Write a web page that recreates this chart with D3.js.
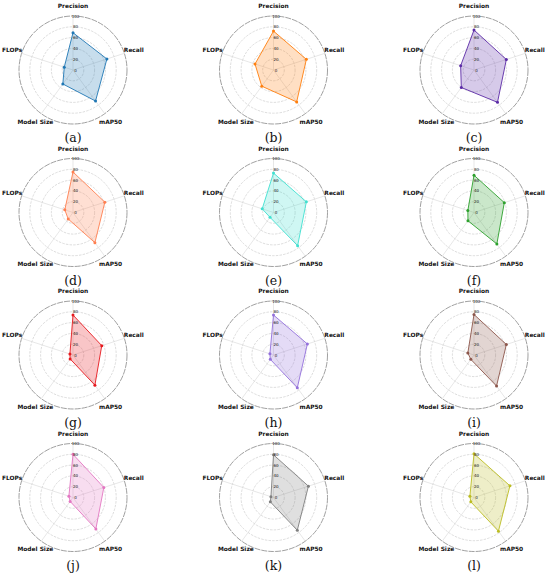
<!DOCTYPE html>
<html>
<head>
<meta charset="utf-8">
<script src="https://cdn.jsdelivr.net/npm/d3@7"></script>
<style>
  body { margin: 0; background: #fff; }
  svg { display: block; }
</style>
</head>
<body>
<div id="chart"></div>
<script>
// radar grid of 12 models, one panel each
var metrics = ['Precision', 'Recall', 'mAP50', 'Model Size', 'FLOPs']
var ringTicks = [0, 20, 40, 60, 80, 100]
var panelNames = ['(a)', '(b)', '(c)', '(d)', '(e)', '(f)', '(g)', '(h)', '(i)', '(j)', '(k)', '(l)']
var panelColors = ['#1f77b4', '#ff7f0e', '#5b2aa6', '#ff7f50', '#40e0d0', '#2ca02c',
                   '#e6191e', '#9370db', '#8c564b', '#e377c2', '#7f7f7f', '#bcbd22']

var precision = [69, 72, 74, 75, 73, 69, 74, 74, 75, 80, 79, 81]
var recall    = [66, 64, 63, 62, 64, 59, 56, 66, 63, 60, 68, 70]
var map50     = [71, 73, 74, 69, 76, 72, 69, 75, 71, 72, 75, 77]
var modelSize = [32, 37, 40, 15, 11, 19, 9, 10, 10, 9, 10, 10]
var flops     = [17, 36, 26, 16, 22, 12, 6, 7, 12, 8, 5, 8]

var width = 550
var height = 575
var colX = [73, 273.5, 474]
var rowY = [70, 212.5, 355, 497.5]
var R = 54

var svg = d3.select('#chart').append('svg')
    .attr('width', width)
    .attr('height', height)

var r = d3.scaleLinear().domain([0, 100]).range([0, R])
var angle = d3.scaleLinear().domain([0, metrics.length]).range([0, 2 * Math.PI])

var drawPanel = function(i) {
    var cx = colX[i % 3]
    var cy = rowY[Math.floor(i / 3)]
    var color = panelColors[i]
    var values = [precision[i], recall[i], map50[i], modelSize[i], flops[i]]

    var g = svg.append('g').attr('transform', 'translate(' + cx + ',' + cy + ')')

    // rings
    g.selectAll('.ring')
        .data(ringTicks.slice(1, -1))
        .enter().append('circle')
        .attr('r', function(d) { return r(d) })
        .attr('fill', 'none')
        .attr('stroke', '#c6c6c6')
        .attr('stroke-width', 0.6)
        .attr('stroke-dasharray', '2.5,1.2')

    g.append('circle')
        .attr('r', r(100))
        .attr('fill', 'none')
        .attr('stroke', '#808080')
        .attr('stroke-width', 0.75)
        .attr('stroke-dasharray', '6,1')

    // spokes
    g.selectAll('.spoke')
        .data(metrics)
        .enter().append('line')
        .attr('x1', 0).attr('y1', 0)
        .attr('x2', function(d, k) { return r(100) * Math.sin(angle(k)) })
        .attr('y2', function(d, k) { return -r(100) * Math.cos(angle(k)) })
        .attr('stroke', '#d6d6d6')
        .attr('stroke-width', 0.6)

    var radial = d3.lineRadial()
        .angle(function(d, k) { return angle(k) })
        .radius(function(d) { return r(d) })
        .curve(d3.curveLinearClosed)

    g.append('path')
        .attr('d', radial(values))
        .attr('fill', color)
        .attr('fill-opacity', 0.25)
        .attr('stroke', color)
        .attr('stroke-width', 0.9)

    g.selectAll('.dot')
        .data(values)
        .enter().append('circle')
        .attr('cx', function(d, k) { return r(d) * Math.sin(angle(k)) })
        .attr('cy', function(d, k) { return -r(d) * Math.cos(angle(k)) })
        .attr('r', 1.5)
        .attr('fill', color)

    g.selectAll('.tick')
        .data(ringTicks)
        .enter().append('text')
        .attr('x', 2.5)
        .attr('y', function(d) { return -r(d) })
        .attr('text-anchor', 'middle')
        .attr('dominant-baseline', 'central')
        .style('font-family', 'DejaVu Sans')
        .style('font-size', '4px')
        .style('fill', '#222')
        .text(function(d) { return d })

    g.selectAll('.metric')
        .data(metrics)
        .enter().append('text')
        .attr('x', function(d, k) { return 64 * Math.sin(angle(k)) })
        .attr('y', function(d, k) { return -64 * Math.cos(angle(k)) })
        .attr('text-anchor', 'middle')
        .attr('dominant-baseline', 'central')
        .style('font-family', 'DejaVu Sans')
        .style('font-weight', 'bold')
        .style('font-size', '5.9px')
        .style('fill', '#111')
        .text(function(d) { return d })

    g.append('text')
        .attr('x', 0)
        .attr('y', 67.5)
        .attr('text-anchor', 'middle')
        .attr('dominant-baseline', 'central')
        .style('font-family', 'DejaVu Serif')
        .style('font-size', '12.5px')
        .style('fill', '#111')
        .text(panelNames[i])
}

for (var i = 0; i < panelNames.length; i++) {
    drawPanel(i)
}
</script>
</body>
</html>
